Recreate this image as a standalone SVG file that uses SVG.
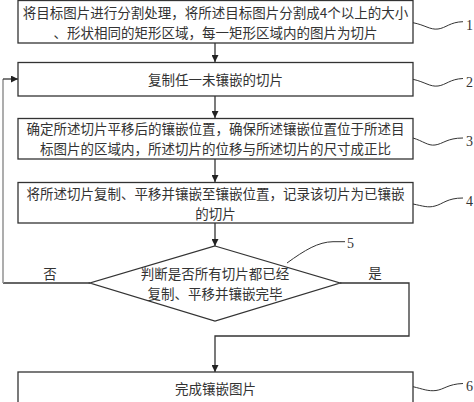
<svg xmlns="http://www.w3.org/2000/svg" width="474" height="402" viewBox="0 0 474 402">
<defs>
<marker id="arr" viewBox="0 0 10 10" refX="10" refY="5" markerWidth="7" markerHeight="7" markerUnits="userSpaceOnUse" orient="auto">
<path d="M0,0 L10,5 L0,10 z" fill="#222"/>
</marker>
<style>
.box{fill:#fff;stroke:#333;stroke-width:1.3}
.t{font-family:"Noto Sans CJK SC","Noto Sans",sans-serif;font-size:13.5px;fill:#333;text-anchor:middle;dominant-baseline:central}
.c{fill:none;stroke:#333;stroke-width:1}
.n{font-family:"Liberation Serif",serif;font-size:14px;fill:#333;dominant-baseline:central}
.l{fill:none;stroke:#333;stroke-width:1.3}
</style>
</defs>
<rect width="474" height="402" fill="#fff"/>
<g id="connectors">
<line class="l" x1="215" y1="43" x2="215" y2="62" marker-end="url(#arr)"/>
<line class="l" x1="215" y1="96" x2="215" y2="118" marker-end="url(#arr)"/>
<line class="l" x1="215" y1="159" x2="215" y2="182" marker-end="url(#arr)"/>
<line class="l" x1="215" y1="223" x2="215" y2="246" marker-end="url(#arr)"/>
<polyline class="l" points="340,283 409,283 409,336 215,336 215,372" marker-end="url(#arr)"/>
<polyline class="l" points="90,283 3,283" />
<line x1="3" y1="283" x2="3" y2="79" stroke="#999" stroke-width="1.6"/>
<line class="l" x1="3" y1="79" x2="18" y2="79" marker-end="url(#arr)"/>
<text class="t" x="50" y="273">否</text>
<text class="t" x="375" y="272">是</text>
</g>
<g id="n1">
<rect class="box" x="18" y="0.5" width="395" height="42.5"/>
<text class="t" x="215.5" y="12">将目标图片进行分割处理，将所述目标图片分割成4个以上的大小</text>
<text class="t" x="215.5" y="32">、形状相同的矩形区域，每一矩形区域内的图片为切片</text>
<path class="c" d="M413,22.7 C425,25 430,30 438,29 C446,28 450,22 463,21.7"/>
<text class="n" x="466" y="25">1</text>
</g>
<g id="n2">
<rect class="box" x="18" y="62.5" width="395" height="33.5"/>
<text class="t" x="215.5" y="79">复制任一未镶嵌的切片</text>
<path class="c" d="M413,79.3 C425,82 430,87 438,86 C446,85 450,79 463,78.5"/>
<text class="n" x="466" y="82">2</text>
</g>
<g id="n3">
<rect class="box" x="18" y="118.5" width="395" height="40.5"/>
<text class="t" x="215.5" y="128">确定所述切片平移后的镶嵌位置，确保所述镶嵌位置位于所述目</text>
<text class="t" x="215.5" y="148">标图片的区域内，所述切片的位移与所述切片的尺寸成正比</text>
<path class="c" d="M413,138 C423,141 428,146 435,145 C443,144 447,138 463,138"/>
<text class="n" x="466" y="141.5">3</text>
</g>
<g id="n4">
<rect class="box" x="18" y="182.5" width="395" height="40.5"/>
<text class="t" x="215.5" y="193">将所述切片复制、平移并镶嵌至镶嵌位置，记录该切片为已镶嵌</text>
<text class="t" x="215.5" y="213">的切片</text>
<path class="c" d="M413,204 C423,206 428,208 435,206 C443,204 447,198 463,198"/>
<text class="n" x="466" y="201.5">4</text>
</g>
<g id="n5">
<polygon class="box" points="215,246 340,283 215,321 90,283"/>
<text class="t" x="215" y="273">判断是否所有切片都已经</text>
<text class="t" x="215" y="293">复制、平移并镶嵌完毕</text>
<path class="c" d="M287,263 C305,250 318,242 333,241.7 L345,241.7"/>
<text class="n" x="347" y="243.5">5</text>
</g>
<g id="n6">
<rect class="box" x="18" y="372" width="395" height="40"/>
<text class="t" x="215.5" y="387.5">完成镶嵌图片</text>
<path class="c" d="M413,386.7 C423,389 428,391.5 436,390.5 C444,389.5 448,384 463,383.5"/>
<text class="n" x="466" y="386.5">6</text>
</g>
</svg>
